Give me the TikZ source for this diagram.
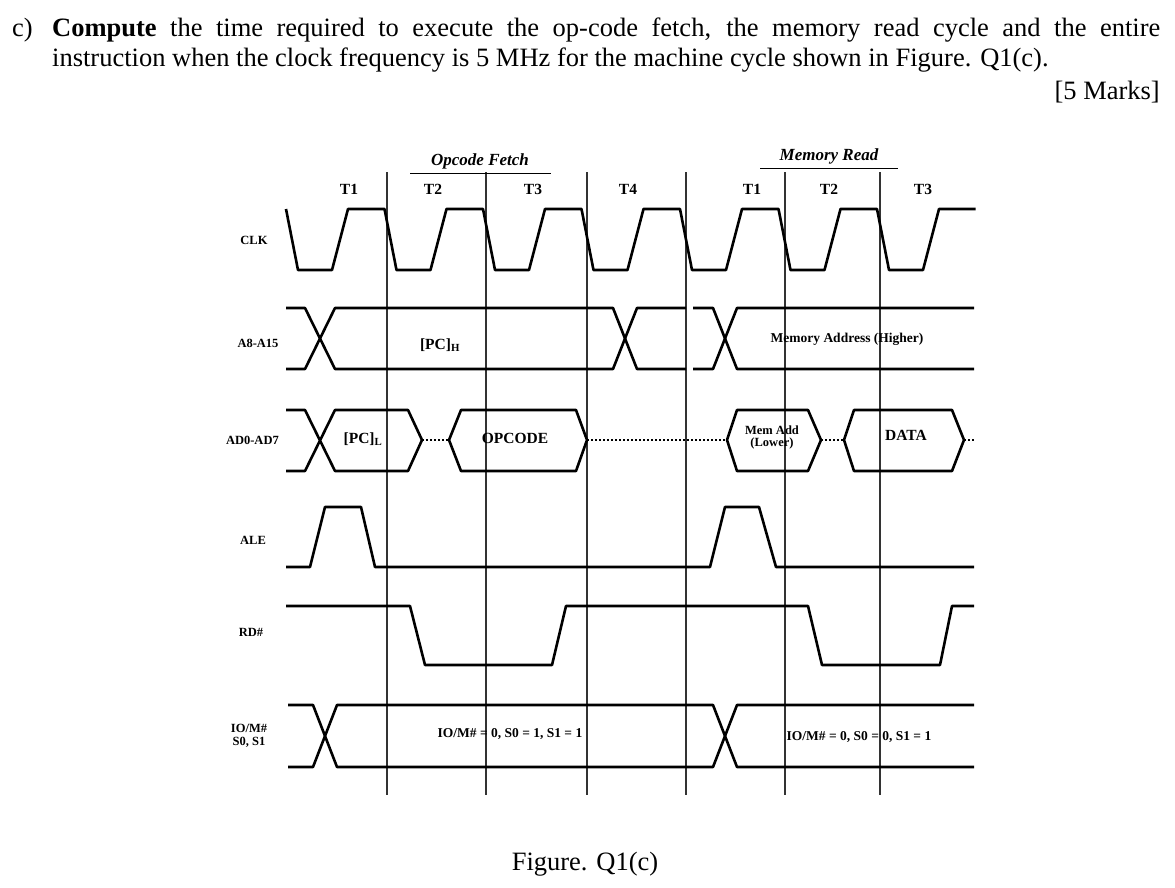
\documentclass[tikz,border=0pt]{standalone}
\usepackage{fontspec}
\setmainfont{Liberation Serif}
\begin{document}
\begin{tikzpicture}[x=1pt,y=-1pt,
  sig/.style={line width=2.6pt,line join=round},
  grid/.style={line width=1.1pt,black!80},
  lab/.style={font=\fontsize{12.5}{13.5}\selectfont\bfseries,inner sep=0pt},
  txt/.style={font=\fontsize{15.5}{16}\selectfont\bfseries,inner sep=0pt},
  dots/.style={line width=2pt,dotted}]
\useasboundingbox (0,0) rectangle (1175,888);
% header
\node[anchor=base west,inner sep=0pt,font=\fontsize{26.5}{30}\selectfont] (c) at (12,37) {c)};
\node[anchor=base west,inner sep=0pt,font=\fontsize{26.5}{30}\selectfont,text width=1108pt,align=justify] (q) at (52,37)
 {\textbf{Compute} the time required to execute the op-code fetch, the memory read cycle and the entire\linebreak instruction when the clock frequency is 5 MHz for the machine cycle shown in Figure. Q1(c).};
\node[anchor=base east,inner sep=0pt,font=\fontsize{26.5}{30}\selectfont] (m) at (1160,100) {[5 Marks]};
\node[anchor=base,inner sep=0pt,font=\fontsize{26.5}{30}\selectfont] (f) at (585,870) {Figure. Q1(c)};
% grid lines
\foreach \x in {387,486,587,686,785,880} \draw[grid] (\x,172) -- (\x,795);
% headings
\node[txt,font=\fontsize{17}{18}\selectfont\bfseries\itshape] (of) at (480,161) {Opcode Fetch};
\draw[line width=1pt] (410,173) -- (551,173);
\node[txt,font=\fontsize{17}{18}\selectfont\bfseries\itshape] (mr) at (829,156) {Memory Read};
\draw[line width=1pt] (760,168) -- (898,168);
\foreach \x/\t in {349/T1,433/T2,533/T3,628/T4,752/T1,829/T2,923/T3}
  \node[txt] at (\x,189) {\t};
% labels
\node[lab] (lclk) at (254,240) {CLK};
\node[lab] (la) at (258,343) {A8-A15};
\node[lab,anchor=east] (lad) at (279,440) {AD0-AD7};
\node[lab] (lale) at (253,540) {ALE};
\node[lab] (lrd) at (251,632) {RD\#};
\node[lab,align=center] (lio) at (249,736) {IO/M\#\\S0, S1};
% CLK
\draw[sig] (286,209)
 \foreach \s in {1,...,7} { -- ++(12,61) -- ++(34,0) -- ++(16,-61) -- ++(36.5,0) } ;
% A8-A15
\draw[sig] (286,308) -- (305,308) -- (335,369) -- (613,369) -- (637,308) -- (686,308);
\draw[sig] (286,369) -- (305,369) -- (335,308) -- (613,308) -- (637,369) -- (686,369);
\draw[sig] (693,308) -- (713,308) -- (737,369) -- (974,369);
\draw[sig] (693,369) -- (713,369) -- (737,308) -- (974,308);
\node[txt] (pch) at (440,345) {[PC]$_{\mathbf{H}}$};
\node[txt,font=\fontsize{13.5}{14}\selectfont\bfseries] (ma) at (847,339) {Memory Address (Higher)};
% AD0-AD7
\draw[sig] (286,410) -- (305,410) -- (335,471) -- (408,471) -- (422,440) -- (408,410) -- (335,410) -- (305,471) -- (286,471);
\draw[sig] (449,440) -- (461,410) -- (576,410) -- (587,440) -- (576,471) -- (461,471) -- cycle;
\draw[sig] (727,440) -- (737,410) -- (808,410) -- (821,440) -- (808,471) -- (737,471) -- cycle;
\draw[sig] (844,440) -- (854,410) -- (952,410) -- (964,440) -- (952,471) -- (854,471) -- cycle;
\draw[dots] (422,440) -- (449,440);
\draw[dots] (587,440) -- (727,440);
\draw[dots] (821,440) -- (844,440);
\draw[dots] (964,440) -- (975,440);
\node[txt] (pcl) at (363,439) {[PC]$_{\mathbf{L}}$};
\node[txt] (opc) at (515,438) {OPCODE};
\node[txt,font=\fontsize{12.5}{12}\selectfont\bfseries,align=center] (mal) at (772,437) {Mem Add\\(Lower)};
\node[txt] (data) at (906,435) {DATA};
% ALE
\draw[sig] (286,567) -- (310,567) -- (325,507) -- (361,507) -- (375,567) -- (710,567) -- (725,507) -- (759,507) -- (776,567) -- (974,567);
% RD
\draw[sig] (286,606) -- (410,606) -- (425,665) -- (552,665) -- (566,606) -- (808,606) -- (822,665) -- (940,665) -- (952,606) -- (974,606);
% IO/M
\draw[sig] (288,705) -- (313,705) -- (337,767) -- (713,767) -- (737,705) -- (974,705);
\draw[sig] (288,767) -- (313,767) -- (337,705) -- (713,705) -- (737,767) -- (974,767);
\node[txt,font=\fontsize{13.5}{14}\selectfont\bfseries] (io1) at (510,734) {IO/M\# = 0, S0 = 1, S1 = 1};
\node[txt,font=\fontsize{13.5}{14}\selectfont\bfseries] (io2) at (859,737) {IO/M\# = 0, S0 = 0, S1 = 1};
\end{tikzpicture}
\end{document}
